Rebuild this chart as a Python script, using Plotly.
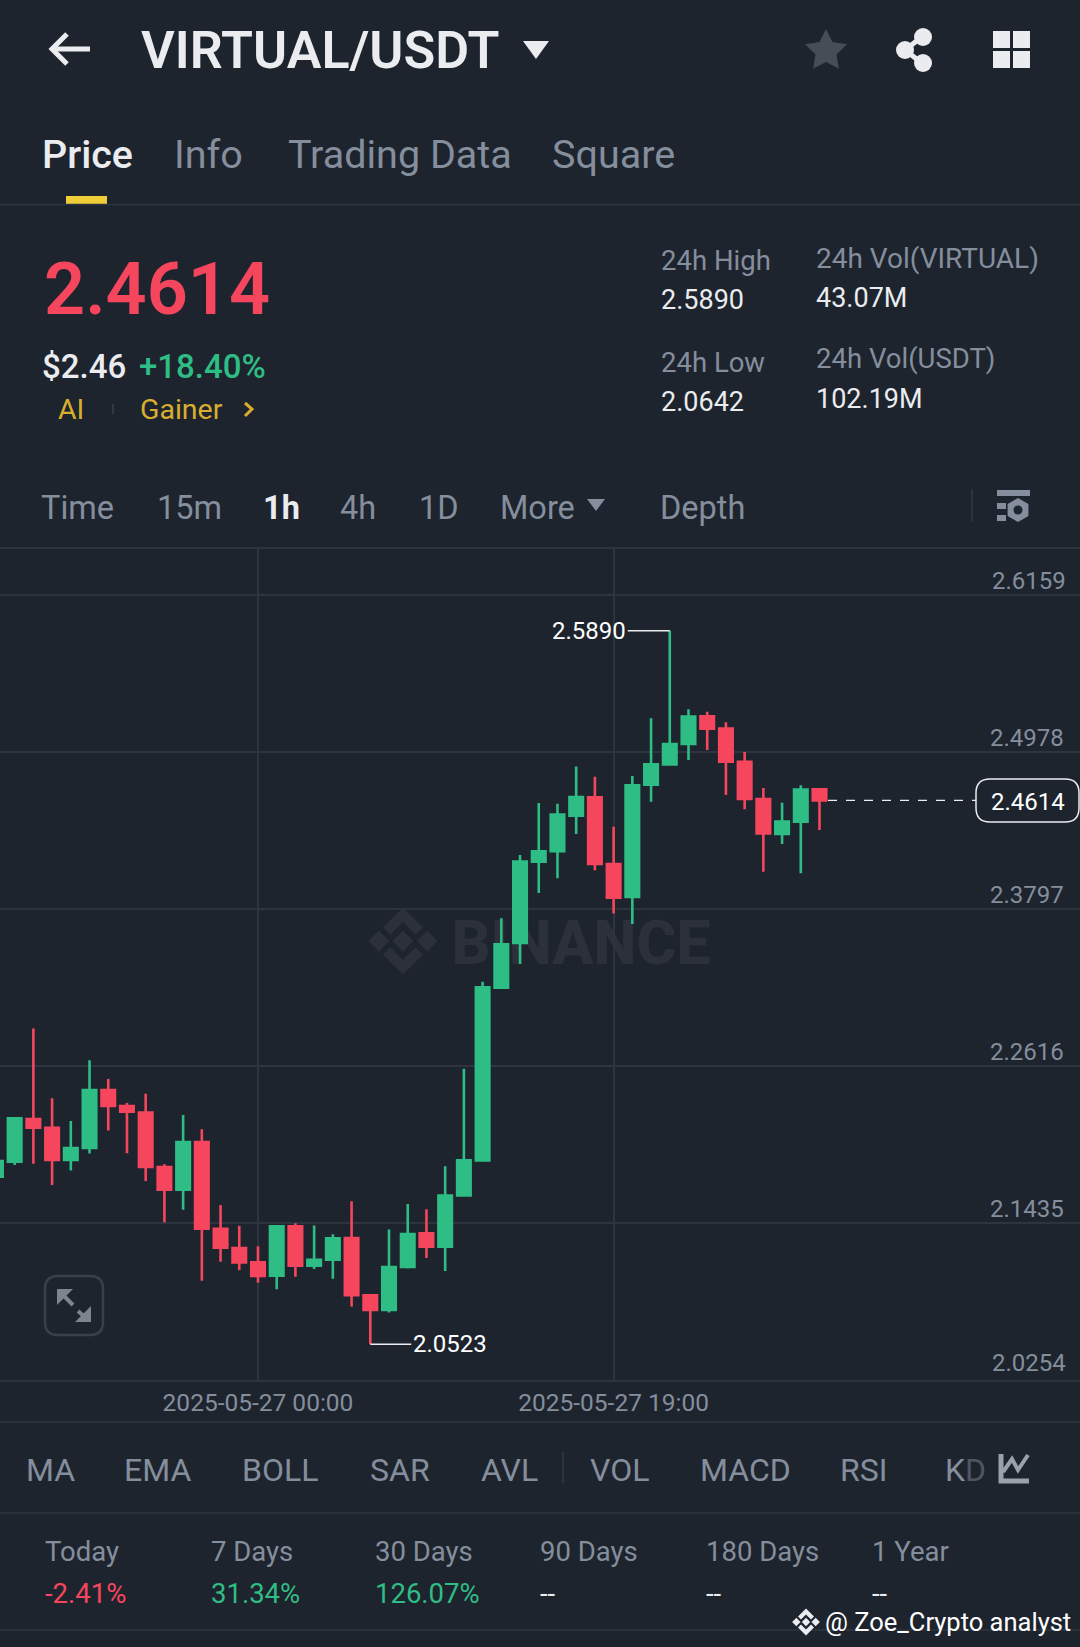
import math
import pandas as pd
import plotly.graph_objects as go

W, H = 1080, 1647
BG = "#1E242E"
GRID = "#2E343F"
GREEN = "#2EBD85"
RED = "#F6465D"
GRAY = "#848E9C"
WHITE = "#EAECEF"
FONT = "Roboto"

times = pd.date_range("2025-05-26 10:00", periods=45, freq="h")
opens = [2.1783, 2.1896, 2.2217, 2.2152, 2.1909, 2.1999, 2.2435, 2.2315, 2.2265, 2.1856, 2.1686, 2.2044, 2.1392, 2.1247, 2.1139,
         2.1039, 2.1410, 2.1114, 2.1159, 2.1322, 2.0891, 2.0781, 2.1104, 2.1357, 2.1257, 2.1643, 2.1906, 2.3205, 2.3541, 2.4153,
         2.4231, 2.4499, 2.4637, 2.4136, 2.3887, 2.4732, 2.4885, 2.5038, 2.5246, 2.5154, 2.4905, 2.4625, 2.4361, 2.4454, 2.4697]
highs = [2.1901, 2.2232, 2.2899, 2.2373, 2.2202, 2.2659, 2.2518, 2.2338, 2.2408, 2.1876, 2.2247, 2.2140, 2.1570, 2.1415, 2.1260,
         2.1417, 2.1433, 2.1417, 2.1350, 2.1598, 2.0891, 2.1387, 2.1578, 2.1538, 2.1861, 2.2596, 2.3250, 2.3727, 2.4203, 2.4594,
         2.4589, 2.4868, 2.4792, 2.4416, 2.4798, 2.5231, 2.5890, 2.5299, 2.5281, 2.5201, 2.4978, 2.4707, 2.4597, 2.4727, 2.4697]
lows = [2.1783, 2.1871, 2.1881, 2.1721, 2.1829, 2.1957, 2.2130, 2.1959, 2.1751, 2.1440, 2.1535, 2.1001, 2.1144, 2.1079, 2.0986,
        2.0936, 2.1031, 2.1089, 2.1016, 2.0806, 2.0523, 2.0761, 2.1092, 2.1172, 2.1074, 2.1638, 2.1896, 2.3195, 2.3383, 2.3917,
        2.4028, 2.4361, 2.4088, 2.3764, 2.3684, 2.4604, 2.4875, 2.4918, 2.4993, 2.4655, 2.4547, 2.4078, 2.4286, 2.4065, 2.4391]
closes = [2.1901, 2.2222, 2.2152, 2.1909, 2.1999, 2.2435, 2.2315, 2.2273, 2.1856, 2.1686, 2.2044, 2.1392, 2.1250, 2.1139, 2.1036,
          2.1410, 2.1114, 2.1159, 2.1320, 2.0891, 2.0781, 2.1104, 2.1352, 2.1257, 2.1641, 2.1906, 2.3208, 2.3531, 2.4153, 2.4231,
          2.4507, 2.4640, 2.4136, 2.3882, 2.4727, 2.4885, 2.5038, 2.5244, 2.5154, 2.4905, 2.4625, 2.4366, 2.4454, 2.4695, 2.4614]

price_ticks = [2.6159, 2.4978, 2.3797, 2.2616, 2.1435, 2.0254]
price_labels = ["2.6159", "2.4978", "2.3797", "2.2616", "2.1435", "2.0254"]
time_ticks = ["2025-05-27 00:00", "2025-05-27 19:00"]
last_price = 2.4614
day_high = 2.5890
day_low = 2.0523
high_time = "2025-05-27 22:00"
low_time = "2025-05-27 06:00"

tabs = ["Price", "Info", "Trading Data", "Square"]
intervals = ["Time", "15m", "1h", "4h", "1D", "More", "Depth"]
indicators = ["MA", "EMA", "BOLL", "SAR", "AVL", "VOL", "MACD", "RSI"]
periods = ["Today", "7 Days", "30 Days", "90 Days", "180 Days", "1 Year"]
changes = ["-2.41%", "31.34%", "126.07%", "--", "--", "--"]
change_colors = [RED, GREEN, GREEN, WHITE, WHITE, WHITE]

shapes, notes = [], []


def X(x):
    return x / W


def Y(y):
    return 1 - y / H


def path(pts, close=False):
    s = "M " + " L ".join(f"{X(x):.5f} {Y(y):.5f}" for x, y in pts)
    return s + (" Z" if close else "")


def poly(pts, fill=None, line=None, width=0, layer="above", close=True):
    shapes.append(dict(type="path", xref="paper", yref="paper", layer=layer, path=path(pts, close),
                       fillcolor=fill if fill else "rgba(0,0,0,0)",
                       line=dict(color=line if line else "rgba(0,0,0,0)", width=width)))


def rect(x0, y0, x1, y1, fill, layer="above"):
    poly([(x0, y0), (x1, y0), (x1, y1), (x0, y1)], fill=fill, layer=layer)


def hline(x0, x1, y, color=GRID, width=1.5):
    poly([(x0, y), (x1, y)], line=color, width=width, close=False)


def circle(cx, cy, r, fill):
    shapes.append(dict(type="circle", xref="paper", yref="paper", x0=X(cx - r), x1=X(cx + r), y0=Y(cy + r), y1=Y(cy - r),
                       fillcolor=fill, line=dict(width=0)))


def rrect(x0, y0, x1, y1, r, fill, line, width):
    p = (f"M {X(x0 + r)} {Y(y0)} L {X(x1 - r)} {Y(y0)} Q {X(x1)} {Y(y0)} {X(x1)} {Y(y0 + r)} "
         f"L {X(x1)} {Y(y1 - r)} Q {X(x1)} {Y(y1)} {X(x1 - r)} {Y(y1)} "
         f"L {X(x0 + r)} {Y(y1)} Q {X(x0)} {Y(y1)} {X(x0)} {Y(y1 - r)} "
         f"L {X(x0)} {Y(y0 + r)} Q {X(x0)} {Y(y0)} {X(x0 + r)} {Y(y0)} Z")
    shapes.append(dict(type="path", xref="paper", yref="paper", path=p, fillcolor=fill, line=dict(color=line, width=width)))


def txt(x, y, s, size, color=GRAY, anchor="left", weight=400):
    notes.append(dict(x=X(x), y=Y(y), xref="paper", yref="paper", text=s, showarrow=False, xanchor=anchor, yanchor="middle",
                      font=dict(family=FONT, size=size, color=color, weight=weight), borderpad=0, borderwidth=0))


def binance_logo(cx, cy, s, color, layer):
    def d(x, y, r):
        poly([(cx + x * s, cy + (y - r) * s), (cx + (x + r) * s, cy + y * s), (cx + x * s, cy + (y + r) * s), (cx + (x - r) * s, cy + y * s)],
             fill=color, layer=layer)
    d(0, 0, 1)
    d(-2.3, 0, 1)
    d(2.3, 0, 1)
    for sign in (-1, 1):
        poly([(cx - 1.9 * s, cy + sign * 1.3 * s), (cx, cy + sign * 3.2 * s), (cx + 1.9 * s, cy + sign * 1.3 * s),
              (cx + 1.2 * s, cy + sign * 0.6 * s), (cx, cy + sign * 1.8 * s), (cx - 1.2 * s, cy + sign * 0.6 * s)], fill=color, layer=layer)


# ---------- chart watermark (under the candles)
binance_logo(403, 941, 10.5, "#2B303B", "below")
shapes.append(dict(type="rect", xref="paper", yref="paper", layer="below", x0=X(450), x1=X(712), y0=Y(961), y1=Y(916),
                   line=dict(width=0), fillcolor="rgba(0,0,0,0)",
                   label=dict(text="BINANCE", font=dict(family=FONT, size=61, color="#2B303B", weight=800),
                              textposition="middle center")))

# ---------- header
poly([(52, 49), (90, 49)], line=WHITE, width=5, close=False)
poly([(67, 34), (52, 49), (67, 64)], line=WHITE, width=5, close=False)
txt(141, 51, "VIRTUAL/USDT", 52, WHITE, weight=600)
poly([(523, 41), (549, 41), (536, 59)], fill=WHITE)
star = []
for i in range(10):
    r = 22 if i % 2 == 0 else 11
    a = -math.pi / 2 + i * math.pi / 5
    star.append((826 + r * math.cos(a), 51 + r * math.sin(a)))
poly(star, fill="#474D57")
poly([(923, 36), (905, 50), (923, 64)], line=WHITE, width=5, close=False)
circle(923, 37, 9, WHITE)
circle(905, 50, 9, WHITE)
circle(923, 63, 9, WHITE)
rect(993, 31, 1010, 48, WHITE)
rect(1013, 31, 1030, 48, WHITE)
rect(993, 51, 1010, 68, WHITE)
rect(1013, 51, 1030, 68, WHITE)

# ---------- tabs
for x, s in zip([42, 174, 288, 552], tabs):
    txt(x, 155, s, 39.5, WHITE if s == "Price" else GRAY, weight=500 if s == "Price" else 400)
rect(66, 196, 107, 204, "#F0CE3A")
hline(0, W, 204.5)

# ---------- price block
txt(44, 290, "2.4614", 72, RED, weight=600)
txt(42, 366, "$2.46", 33, WHITE, weight=500)
txt(139, 366, "+18.40%", 33, GREEN, weight=500)
txt(58, 409, "AI", 28.5, "#D9AE2E")
txt(140, 409, "Gainer", 28.5, "#D9AE2E")
poly([(113, 404), (113, 414)], line="#3A404A", width=1.5, close=False)
poly([(245, 403), (252, 409), (245, 416)], line="#D9AE2E", width=3, close=False)

txt(661, 261, "24h High", 27.5)
txt(661, 300, "2.5890", 27, WHITE)
txt(661, 363, "24h Low", 27.5)
txt(661, 402, "2.0642", 27, WHITE)
txt(816, 258, "24h Vol(VIRTUAL)", 28)
txt(816, 298, "43.07M", 27, WHITE)
txt(816, 359, "24h Vol(USDT)", 27.5)
txt(816, 399, "102.19M", 27, WHITE)

# ---------- interval row
for x, s in zip([41, 157, 263, 340, 419, 500, 660], intervals):
    txt(x, 508, s, 32.5, WHITE if s == "1h" else GRAY, weight=700 if s == "1h" else 400)
poly([(587, 499), (605, 499), (596, 511)], fill=GRAY)
poly([(972, 489), (972, 521)], line="#343A45", width=1.5, close=False)
rect(997, 490, 1030, 496, GRAY)
rect(997, 503, 1006, 509, GRAY)
rect(997, 515, 1006, 521, GRAY)
hexa = [(1018 + 12 * math.sin(i * math.pi / 3), 510 + 12 * math.cos(i * math.pi / 3)) for i in range(6)]
poly(hexa, fill=GRAY)
circle(1018, 510, 4.5, BG)

# ---------- price chart frame
y_top, y_bot = 548, 1380
hline(0, W, y_top, GRID, 2)
hline(0, W, 1422)

for v, s in zip(price_ticks, price_labels):
    shift = 17 if s == "2.0254" else 14
    right = 1067 if s in ("2.6159", "2.0254") else 1065
    notes.append(dict(x=X(right), xref="paper", y=v, yref="y", text=s, showarrow=False, xanchor="right", yanchor="middle", yshift=shift,
                      font=dict(family=FONT, size=24, color=GRAY), borderpad=0))

# last price marker
shapes.append(dict(type="line", xref="paper", yref="y", x0=X(828), x1=X(976), y0=last_price, y1=last_price,
                   line=dict(color=WHITE, width=1.3, dash="dash")))
rrect(976, 779, 1079, 822, 14, BG, WHITE, 1.5)
txt(1028, 802, f"{last_price:.4f}", 24, "#FFFFFF", anchor="center")

# high / low call-outs
notes.append(dict(x=high_time, y=day_high, xref="x", yref="y", text=f"{day_high:.4f}", showarrow=True, arrowhead=0, arrowwidth=1.3,
                  arrowcolor=WHITE, ax=-42, ay=0, xanchor="right", yanchor="middle", font=dict(family=FONT, size=24, color="#FFFFFF")))
notes.append(dict(x=low_time, y=day_low, xref="x", yref="y", text=f"{day_low:.4f}", showarrow=True, arrowhead=0, arrowwidth=1.3,
                  arrowcolor=WHITE, ax=41, ay=0, xanchor="left", yanchor="middle", font=dict(family=FONT, size=24, color="#FFFFFF")))

# expand button
rrect(45, 1276, 103, 1335, 13, "rgba(0,0,0,0)", "#3A404A", 2.5)
poly([(57, 1289), (73, 1289), (57, 1305)], fill="#7E848F")
poly([(91, 1322), (75, 1322), (91, 1306)], fill="#7E848F")
poly([(62, 1294), (73, 1305)], line="#7E848F", width=4, close=False)
poly([(78, 1311), (87, 1319)], line="#7E848F", width=4, close=False)

# ---------- indicator row
for x, s in zip([26, 124, 242, 370, 481, 590, 700, 840], indicators):
    txt(x, 1470, s, 32)
txt(945, 1470, "K<span style='color:#4E5562'>D</span>", 32)
poly([(563, 1452), (563, 1483)], line="#343A45", width=1.5, close=False)
poly([(1001, 1454), (1001, 1481), (1029, 1481)], line="#9AA1AC", width=5, close=False)
poly([(1003, 1472), (1012, 1459), (1018, 1470), (1028, 1455)], line="#9AA1AC", width=4, close=False)
hline(0, W, 1513)

# ---------- performance row
for x, s, c, col in zip([45, 211, 375, 540, 706, 872], periods, changes, change_colors):
    txt(x, 1551, s, 27.5)
    txt(x, 1593, c, 27.5, col)
hline(0, W, 1630)
binance_logo(806, 1622, 4.2, WHITE, "above")
txt(825, 1622, "@ Zoe_Crypto analyst", 25.5, "#FFFFFF")

fig = go.Figure(go.Candlestick(
    x=times, open=opens, high=highs, low=lows, close=closes,
    increasing=dict(line=dict(color=GREEN, width=2.6), fillcolor=GREEN),
    decreasing=dict(line=dict(color=RED, width=2.6), fillcolor=RED),
    whiskerwidth=0, showlegend=False, hoverinfo="skip",
))

y_per_px = (price_ticks[0] - price_ticks[1]) / 157

fig.update_layout(
    width=W, height=H, margin=dict(l=0, r=0, t=0, b=0), paper_bgcolor=BG, plot_bgcolor=BG,
    boxgap=0.28, boxgroupgap=0, showlegend=False, shapes=shapes, annotations=notes,
    font=dict(family=FONT),
    xaxis=dict(
        type="date", domain=[0, 1], range=["2025-05-26 10:13", "2025-05-28 19:55"], rangeslider=dict(visible=False),
        tickmode="array", tickvals=time_ticks, ticktext=time_ticks, showgrid=True, gridcolor=GRID, gridwidth=1.5,
        zeroline=False, showline=True, linecolor=GRID, linewidth=1.5,
        ticks="", tickfont=dict(family=FONT, size=24.5, color=GRAY),
    ),
    yaxis=dict(
        domain=[1 - y_bot / H, 1 - y_top / H],
        range=[price_ticks[-1], price_ticks[0] + (595 - y_top) * y_per_px],
        tickmode="array", tickvals=price_ticks, showticklabels=False, showgrid=True, gridcolor=GRID, gridwidth=1.5,
        zeroline=False, ticks="", fixedrange=True,
    ),
)

fig.write_html("out.html", config=dict(displayModeBar=False),
               post_script="document.body.style.margin='0';document.body.style.overflow='hidden';")
